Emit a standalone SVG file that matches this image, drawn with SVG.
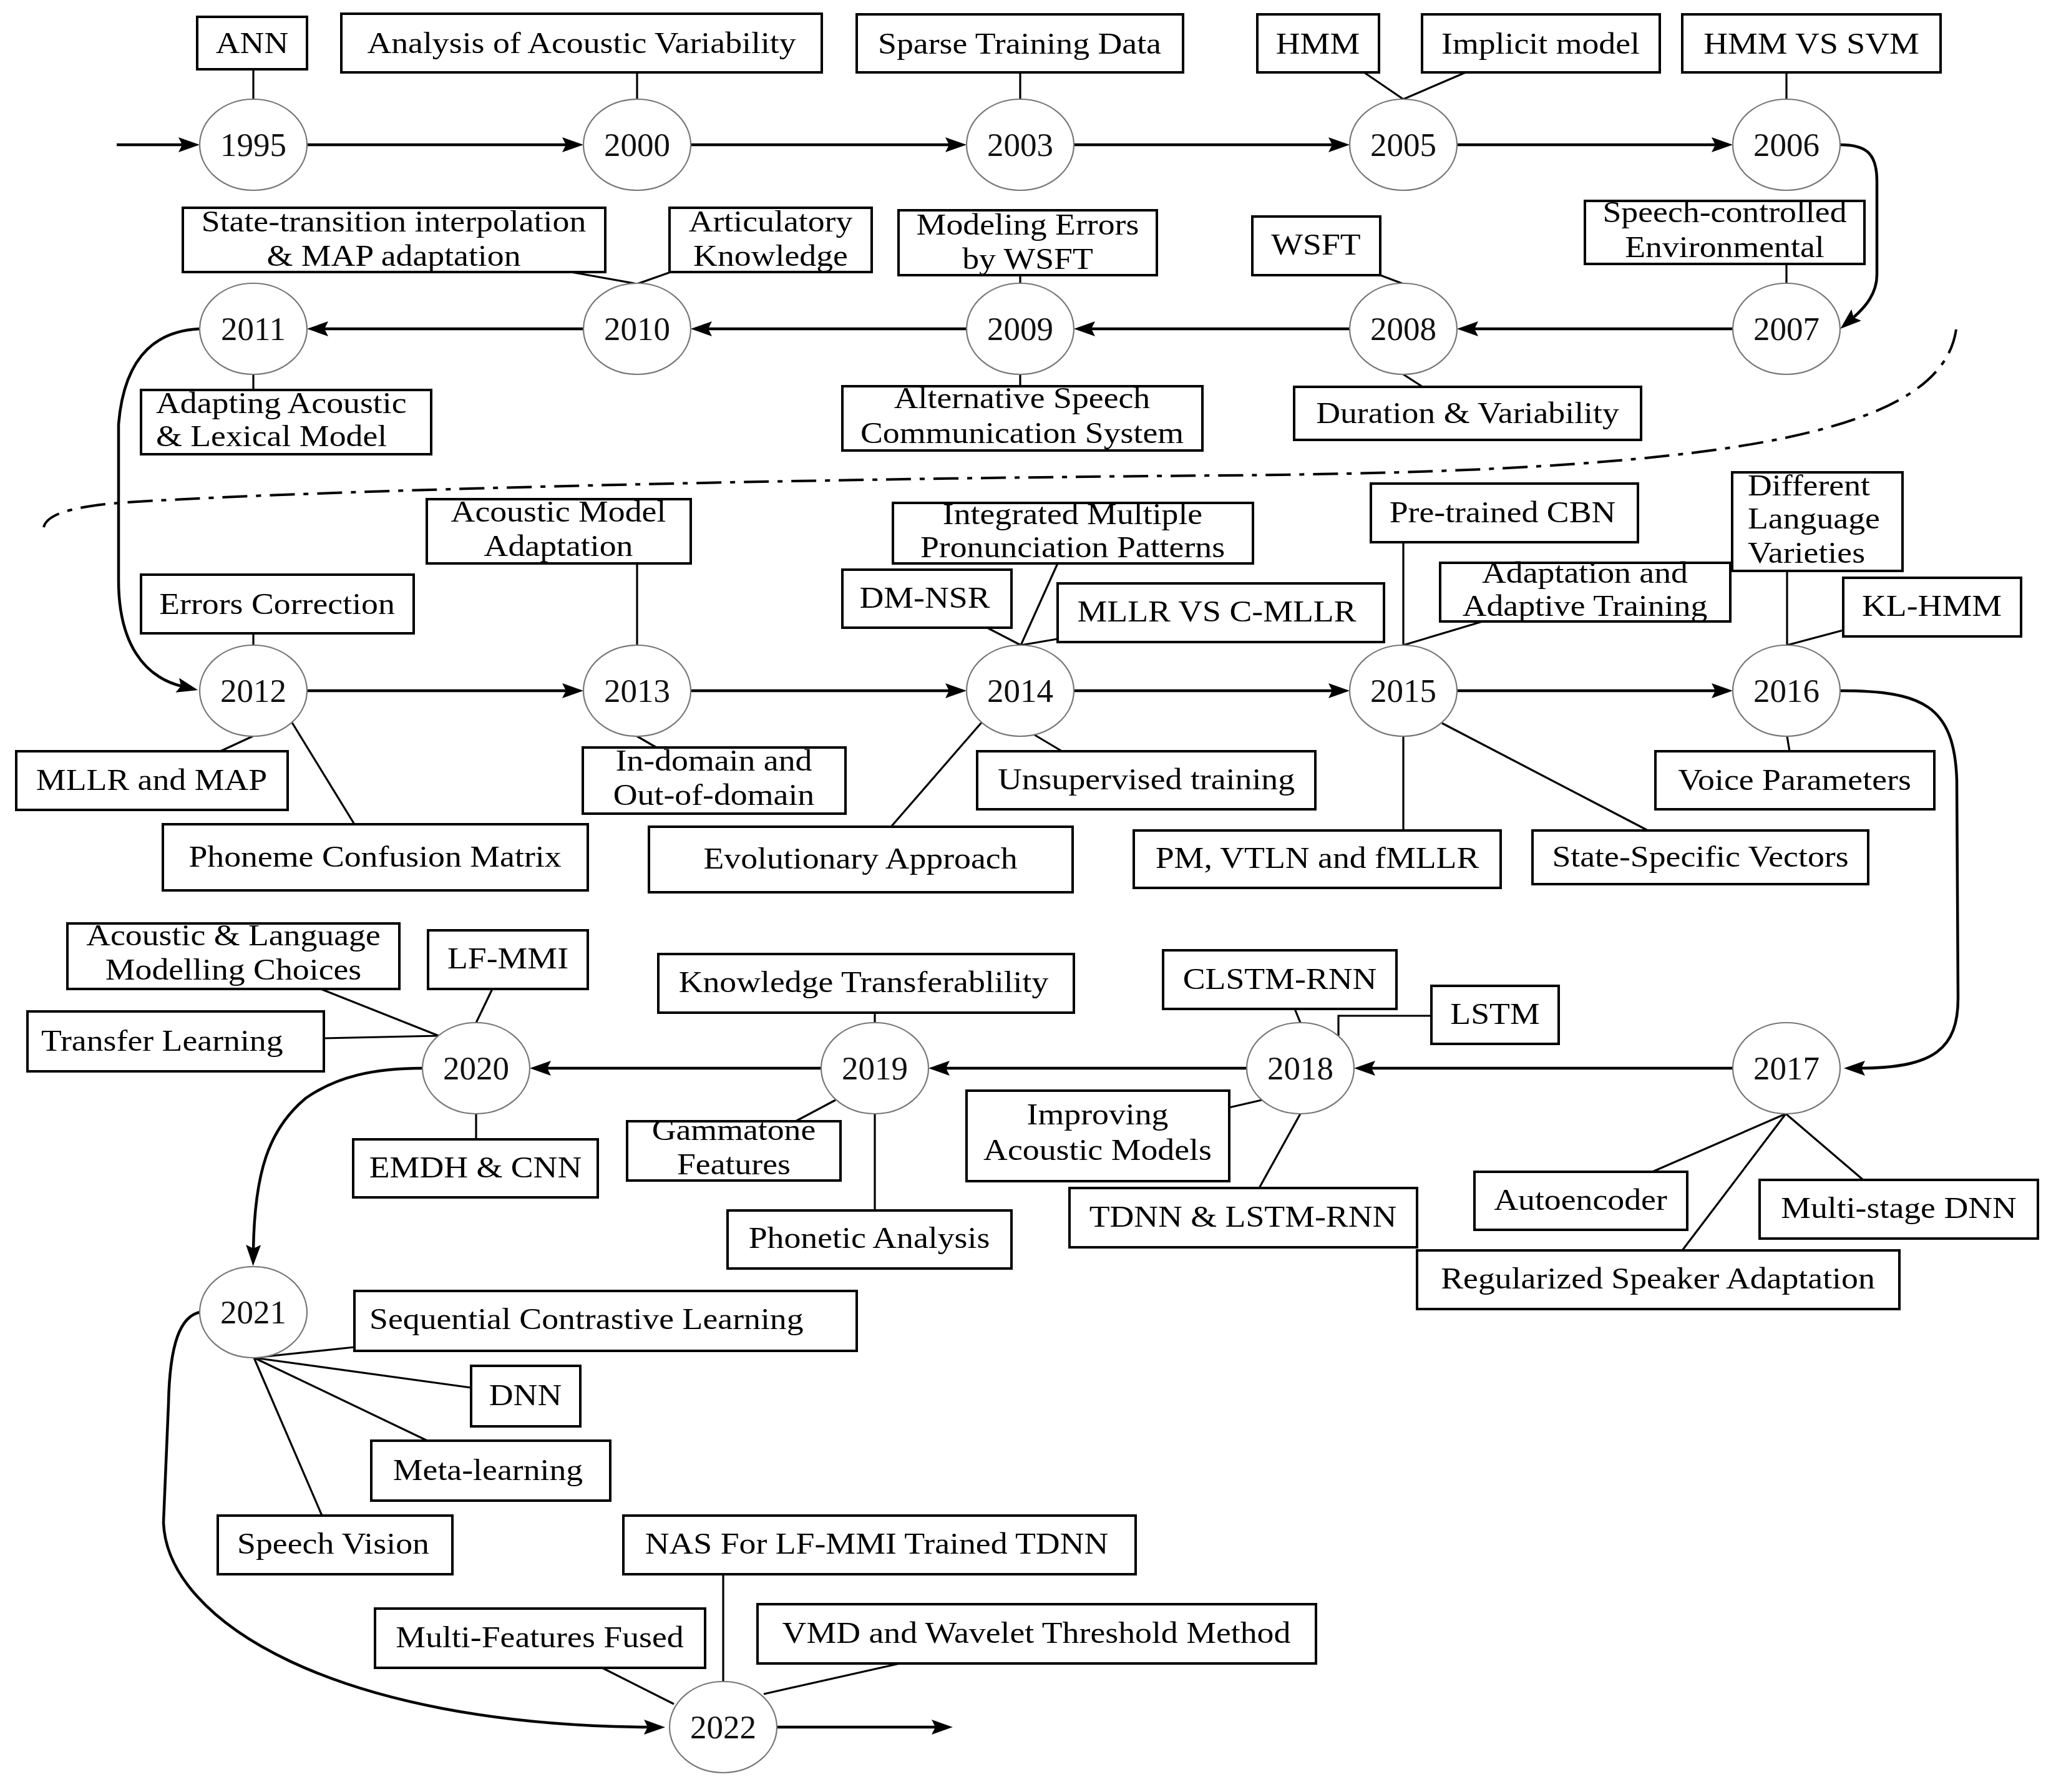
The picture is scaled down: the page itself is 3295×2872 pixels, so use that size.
<svg xmlns="http://www.w3.org/2000/svg" width="3295" height="2872" viewBox="0 0 3295 2872">
<defs>
<style>
.box{fill:#fff;stroke:#000;stroke-width:4}
.yr{fill:#fff;stroke:#777;stroke-width:2.2}
.t{font-family:"Liberation Serif","Times New Roman",serif;font-size:48px;fill:#000;text-anchor:middle}
.y{font-family:"Liberation Serif","Times New Roman",serif;font-size:53px;fill:#111;text-anchor:middle}
.s{text-anchor:start}
.c{stroke:#000;stroke-width:3.2;fill:none}
.a{stroke:#000;stroke-width:4.5;fill:none;marker-end:url(#ah)}
.dd{stroke:#000;stroke-width:4;fill:none;stroke-dasharray:40 14 8 14}
</style>
<marker id="ah" markerUnits="userSpaceOnUse" viewBox="0 0 34 24" markerWidth="34" markerHeight="24" refX="8" refY="12" orient="auto">
<path d="M0,0 L34,12 L0,24 L6,12 z" fill="#000"/>
</marker>
</defs>
<rect width="3295" height="2872" fill="#fff"/>

<g id="connectors">
<path class="a" d="M187 232 H294"/>
<path class="a" d="M492 232 H909"/>
<path class="a" d="M1107 232 H1523"/>
<path class="a" d="M1721 232 H2137"/>
<path class="a" d="M2335 232 H2751"/>
<path class="a" d="M2949 232 C2990 232 3008 245 3008 290 L3008 440 C3008 470 2990 492 2969 510"/>
<path class="a" d="M2777 527 H2361"/>
<path class="a" d="M2163 527 H1747"/>
<path class="a" d="M1549 527 H1133"/>
<path class="a" d="M935 527 H518"/>
<path class="a" d="M320 527 C260 530 200 560 190 680 L190 930 C190 1030 230 1085 292 1100"/>
<path class="a" d="M492 1107 H909"/>
<path class="a" d="M1107 1107 H1523"/>
<path class="a" d="M1721 1107 H2137"/>
<path class="a" d="M2335 1107 H2751"/>
<path class="a" d="M2949 1107 C3080 1107 3132 1130 3136 1250 L3138 1600 C3138 1680 3100 1712 2981 1712"/>
<path class="a" d="M2777 1712 H2196"/>
<path class="a" d="M1999 1712 H1514"/>
<path class="a" d="M1316 1712 H875"/>
<path class="a" d="M677 1712 C600 1712 540 1725 490 1760 C430 1810 408 1880 406 2003"/>
<path class="a" d="M320 2103 C290 2110 272 2150 270 2250 L262 2440 C268 2600 540 2765 1040 2768"/>
<path class="a" d="M1245 2768 H1501"/>
<path class="dd" d="M3135 528 C3110 700 2750 756 1950 762 C1200 768 450 788 190 806 C110 813 75 825 70 845"/>
<path class="c" d="M406 111 V159"/>
<path class="c" d="M1021 116 V159"/>
<path class="c" d="M1635 116 V159"/>
<path class="c" d="M2186 116 L2249 159 L2349 116"/>
<path class="c" d="M2863 116 V159"/>
<path class="c" d="M915 436 L1021 455 L1075 436"/>
<path class="c" d="M1635 441 V454"/>
<path class="c" d="M2212 441 L2249 455"/>
<path class="c" d="M2863 423 V454"/>
<path class="c" d="M406 600 V625"/>
<path class="c" d="M1635 600 V619"/>
<path class="c" d="M2249 600 L2280 620"/>
<path class="c" d="M1021 903 V1034"/>
<path class="c" d="M406 1015 V1034"/>
<path class="c" d="M405 1180 L353 1204"/>
<path class="c" d="M468 1158 L568 1321"/>
<path class="c" d="M1021 1180 L1052 1198"/>
<path class="c" d="M1695 903 L1636 1034"/>
<path class="c" d="M1582 1006 L1636 1034"/>
<path class="c" d="M1695 1024 L1636 1034"/>
<path class="c" d="M1655 1176 L1702 1204"/>
<path class="c" d="M1573 1158 L1428 1325"/>
<path class="c" d="M2249 869 V1034"/>
<path class="c" d="M2249 1034 L2376 996"/>
<path class="c" d="M2249 1180 V1331"/>
<path class="c" d="M2311 1159 L2641 1331"/>
<path class="c" d="M2864 915 V1034"/>
<path class="c" d="M2864 1034 L2954 1010"/>
<path class="c" d="M2864 1180 L2868 1204"/>
<path class="c" d="M514 1585 L703 1660"/>
<path class="c" d="M519 1664 L703 1660"/>
<path class="c" d="M789 1585 L763 1639"/>
<path class="c" d="M763 1785 V1826"/>
<path class="c" d="M1402 1623 V1639"/>
<path class="c" d="M1339 1763 L1275 1797"/>
<path class="c" d="M1402 1785 V1940"/>
<path class="c" d="M2075 1617 L2084 1639"/>
<path class="c" d="M2294 1628 H2145 V1660"/>
<path class="c" d="M1970 1775 L2022 1763"/>
<path class="c" d="M2084 1785 L2018 1904"/>
<path class="c" d="M2862 1785 L2648 1878"/>
<path class="c" d="M2862 1785 L2986 1891"/>
<path class="c" d="M2862 1785 L2696 2004"/>
<path class="c" d="M568 2159 L407 2176"/>
<path class="c" d="M407 2176 L755 2224"/>
<path class="c" d="M407 2176 L685 2309"/>
<path class="c" d="M407 2176 L516 2429"/>
<path class="c" d="M1159 2523 V2695"/>
<path class="c" d="M965 2673 L1080 2731"/>
<path class="c" d="M1442 2666 L1224 2715"/>
</g>

<g id="y1995"><ellipse class="yr" cx="406" cy="232" rx="86" ry="73"/><text class="y" x="406" y="250">1995</text></g>
<g id="y2000"><ellipse class="yr" cx="1021" cy="232" rx="86" ry="73"/><text class="y" x="1021" y="250">2000</text></g>
<g id="y2003"><ellipse class="yr" cx="1635" cy="232" rx="86" ry="73"/><text class="y" x="1635" y="250">2003</text></g>
<g id="y2005"><ellipse class="yr" cx="2249" cy="232" rx="86" ry="73"/><text class="y" x="2249" y="250">2005</text></g>
<g id="y2006"><ellipse class="yr" cx="2863" cy="232" rx="86" ry="73"/><text class="y" x="2863" y="250">2006</text></g>
<g id="y2011"><ellipse class="yr" cx="406" cy="527" rx="86" ry="73"/><text class="y" x="406" y="545">2011</text></g>
<g id="y2010"><ellipse class="yr" cx="1021" cy="527" rx="86" ry="73"/><text class="y" x="1021" y="545">2010</text></g>
<g id="y2009"><ellipse class="yr" cx="1635" cy="527" rx="86" ry="73"/><text class="y" x="1635" y="545">2009</text></g>
<g id="y2008"><ellipse class="yr" cx="2249" cy="527" rx="86" ry="73"/><text class="y" x="2249" y="545">2008</text></g>
<g id="y2007"><ellipse class="yr" cx="2863" cy="527" rx="86" ry="73"/><text class="y" x="2863" y="545">2007</text></g>
<g id="y2012"><ellipse class="yr" cx="406" cy="1107" rx="86" ry="73"/><text class="y" x="406" y="1125">2012</text></g>
<g id="y2013"><ellipse class="yr" cx="1021" cy="1107" rx="86" ry="73"/><text class="y" x="1021" y="1125">2013</text></g>
<g id="y2014"><ellipse class="yr" cx="1635" cy="1107" rx="86" ry="73"/><text class="y" x="1635" y="1125">2014</text></g>
<g id="y2015"><ellipse class="yr" cx="2249" cy="1107" rx="86" ry="73"/><text class="y" x="2249" y="1125">2015</text></g>
<g id="y2016"><ellipse class="yr" cx="2863" cy="1107" rx="86" ry="73"/><text class="y" x="2863" y="1125">2016</text></g>
<g id="y2020"><ellipse class="yr" cx="763" cy="1712" rx="86" ry="73"/><text class="y" x="763" y="1730">2020</text></g>
<g id="y2019"><ellipse class="yr" cx="1402" cy="1712" rx="86" ry="73"/><text class="y" x="1402" y="1730">2019</text></g>
<g id="y2018"><ellipse class="yr" cx="2084" cy="1712" rx="86" ry="73"/><text class="y" x="2084" y="1730">2018</text></g>
<g id="y2017"><ellipse class="yr" cx="2863" cy="1712" rx="86" ry="73"/><text class="y" x="2863" y="1730">2017</text></g>
<g id="y2021"><ellipse class="yr" cx="406" cy="2103" rx="86" ry="73"/><text class="y" x="406" y="2121">2021</text></g>
<g id="y2022"><ellipse class="yr" cx="1159" cy="2768" rx="86" ry="73"/><text class="y" x="1159" y="2786">2022</text></g>

<g id="b-ann"><rect class="box" x="316" y="27" width="176" height="84"/><text class="t" transform="translate(404 0) scale(1.12 1)" y="85">ANN</text></g>
<g id="b-analysis"><rect class="box" x="547" y="22" width="770" height="94"/><text class="t" transform="translate(932 0) scale(1.12 1)" y="85">Analysis of Acoustic Variability</text></g>
<g id="b-sparse"><rect class="box" x="1373" y="23" width="523" height="93"/><text class="t" transform="translate(1634 0) scale(1.12 1)" y="86">Sparse Training Data</text></g>
<g id="b-hmm"><rect class="box" x="2015" y="23" width="195" height="93"/><text class="t" transform="translate(2112 0) scale(1.12 1)" y="86">HMM</text></g>
<g id="b-implicit"><rect class="box" x="2279" y="23" width="381" height="93"/><text class="t" transform="translate(2469 0) scale(1.12 1)" y="86">Implicit model</text></g>
<g id="b-hmmsvm"><rect class="box" x="2696" y="23" width="414" height="93"/><text class="t" transform="translate(2903 0) scale(1.12 1)" y="86">HMM VS SVM</text></g>
<g id="b-state"><rect class="box" x="293" y="333" width="677" height="103"/><text class="t" transform="translate(631 0) scale(1.12 1)" y="371">State-transition interpolation</text><text class="t" transform="translate(631 0) scale(1.12 1)" y="426">&amp; MAP adaptation</text></g>
<g id="b-artic"><rect class="box" x="1073" y="333" width="324" height="103"/><text class="t" transform="translate(1235 0) scale(1.12 1)" y="371">Articulatory</text><text class="t" transform="translate(1235 0) scale(1.12 1)" y="426">Knowledge</text></g>
<g id="b-modeling"><rect class="box" x="1440" y="337" width="414" height="104"/><text class="t" transform="translate(1647 0) scale(1.12 1)" y="376">Modeling Errors</text><text class="t" transform="translate(1647 0) scale(1.12 1)" y="431">by WSFT</text></g>
<g id="b-wsft"><rect class="box" x="2007" y="347" width="205" height="94"/><text class="t" transform="translate(2109 0) scale(1.12 1)" y="408">WSFT</text></g>
<g id="b-speechctl"><rect class="box" x="2540" y="322" width="448" height="101"/><text class="t" transform="translate(2764 0) scale(1.12 1)" y="356">Speech-controlled</text><text class="t" transform="translate(2764 0) scale(1.12 1)" y="412">Environmental</text></g>
<g id="b-adapting"><rect class="box" x="226" y="625" width="465" height="103"/><text class="t s" transform="translate(250 0) scale(1.12 1)" y="662">Adapting Acoustic</text><text class="t s" transform="translate(250 0) scale(1.12 1)" y="715">&amp; Lexical Model</text></g>
<g id="b-alternative"><rect class="box" x="1350" y="619" width="577" height="103"/><text class="t" transform="translate(1638 0) scale(1.12 1)" y="654">Alternative Speech</text><text class="t" transform="translate(1638 0) scale(1.12 1)" y="710">Communication System</text></g>
<g id="b-duration"><rect class="box" x="2074" y="620" width="556" height="85"/><text class="t" transform="translate(2352 0) scale(1.12 1)" y="678">Duration &amp; Variability</text></g>
<g id="b-amadapt"><rect class="box" x="684" y="800" width="423" height="103"/><text class="t" transform="translate(895 0) scale(1.12 1)" y="836">Acoustic Model</text><text class="t" transform="translate(895 0) scale(1.12 1)" y="891">Adaptation</text></g>
<g id="b-errors"><rect class="box" x="226" y="921" width="437" height="94"/><text class="t" transform="translate(444 0) scale(1.12 1)" y="984">Errors Correction</text></g>
<g id="b-integrated"><rect class="box" x="1431" y="806" width="577" height="97"/><text class="t" transform="translate(1719 0) scale(1.12 1)" y="840">Integrated Multiple</text><text class="t" transform="translate(1719 0) scale(1.12 1)" y="893">Pronunciation Patterns</text></g>
<g id="b-dmnsr"><rect class="box" x="1350" y="913" width="271" height="93"/><text class="t" transform="translate(1482 0) scale(1.12 1)" y="974">DM-NSR</text></g>
<g id="b-mllrvs"><rect class="box" x="1695" y="935" width="523" height="94"/><text class="t" transform="translate(1950 0) scale(1.12 1)" y="996">MLLR VS C-MLLR</text></g>
<g id="b-cbn"><rect class="box" x="2197" y="775" width="428" height="94"/><text class="t" transform="translate(2408 0) scale(1.12 1)" y="837">Pre-trained CBN</text></g>
<g id="b-adaptive"><rect class="box" x="2308" y="902" width="465" height="94"/><text class="t" transform="translate(2540 0) scale(1.12 1)" y="934">Adaptation and</text><text class="t" transform="translate(2540 0) scale(1.12 1)" y="987">Adaptive Training</text></g>
<g id="b-different"><rect class="box" x="2776" y="757" width="273" height="158"/><text class="t s" transform="translate(2801 0) scale(1.12 1)" y="794">Different</text><text class="t s" transform="translate(2801 0) scale(1.12 1)" y="847">Language</text><text class="t s" transform="translate(2801 0) scale(1.12 1)" y="902">Varieties</text></g>
<g id="b-klhmm"><rect class="box" x="2954" y="926" width="285" height="94"/><text class="t" transform="translate(3096 0) scale(1.12 1)" y="987">KL-HMM</text></g>
<g id="b-mllrmap"><rect class="box" x="26" y="1204" width="435" height="94"/><text class="t" transform="translate(243 0) scale(1.12 1)" y="1266">MLLR and MAP</text></g>
<g id="b-phoneme"><rect class="box" x="261" y="1321" width="681" height="106"/><text class="t" transform="translate(601 0) scale(1.12 1)" y="1389">Phoneme Confusion Matrix</text></g>
<g id="b-indomain"><rect class="box" x="934" y="1198" width="421" height="106"/><text class="t" transform="translate(1144 0) scale(1.12 1)" y="1235">In-domain and</text><text class="t" transform="translate(1144 0) scale(1.12 1)" y="1290">Out-of-domain</text></g>
<g id="b-unsup"><rect class="box" x="1566" y="1204" width="542" height="93"/><text class="t" transform="translate(1837 0) scale(1.12 1)" y="1265">Unsupervised training</text></g>
<g id="b-evol"><rect class="box" x="1040" y="1325" width="679" height="105"/><text class="t" transform="translate(1379 0) scale(1.12 1)" y="1392">Evolutionary Approach</text></g>
<g id="b-pm"><rect class="box" x="1817" y="1331" width="588" height="92"/><text class="t" transform="translate(2111 0) scale(1.12 1)" y="1391">PM, VTLN and fMLLR</text></g>
<g id="b-ssv"><rect class="box" x="2456" y="1331" width="538" height="86"/><text class="t" transform="translate(2725 0) scale(1.12 1)" y="1389">State-Specific Vectors</text></g>
<g id="b-voice"><rect class="box" x="2653" y="1204" width="447" height="93"/><text class="t" transform="translate(2876 0) scale(1.12 1)" y="1266">Voice Parameters</text></g>
<g id="b-aclang"><rect class="box" x="108" y="1480" width="532" height="105"/><text class="t" transform="translate(374 0) scale(1.12 1)" y="1515">Acoustic &amp; Language</text><text class="t" transform="translate(374 0) scale(1.12 1)" y="1570">Modelling Choices</text></g>
<g id="b-lfmmi"><rect class="box" x="686" y="1491" width="256" height="94"/><text class="t" transform="translate(814 0) scale(1.12 1)" y="1552">LF-MMI</text></g>
<g id="b-transfer"><rect class="box" x="44" y="1621" width="475" height="96"/><text class="t s" transform="translate(66 0) scale(1.12 1)" y="1684">Transfer Learning</text></g>
<g id="b-emdh"><rect class="box" x="566" y="1826" width="392" height="93"/><text class="t" transform="translate(762 0) scale(1.12 1)" y="1887">EMDH &amp; CNN</text></g>
<g id="b-knowledge"><rect class="box" x="1055" y="1529" width="666" height="94"/><text class="t" transform="translate(1384 0) scale(1.12 1)" y="1590">Knowledge Transferablility</text></g>
<g id="b-gamma"><rect class="box" x="1005" y="1797" width="342" height="95"/><text class="t" transform="translate(1176 0) scale(1.12 1)" y="1827">Gammatone</text><text class="t" transform="translate(1176 0) scale(1.12 1)" y="1882">Features</text></g>
<g id="b-phonetic"><rect class="box" x="1166" y="1940" width="455" height="93"/><text class="t" transform="translate(1393 0) scale(1.12 1)" y="2000">Phonetic Analysis</text></g>
<g id="b-clstm"><rect class="box" x="1864" y="1523" width="374" height="94"/><text class="t" transform="translate(2051 0) scale(1.12 1)" y="1585">CLSTM-RNN</text></g>
<g id="b-lstm"><rect class="box" x="2294" y="1580" width="204" height="93"/><text class="t" transform="translate(2396 0) scale(1.12 1)" y="1641">LSTM</text></g>
<g id="b-improving"><rect class="box" x="1549" y="1748" width="421" height="145"/><text class="t" transform="translate(1759 0) scale(1.12 1)" y="1802">Improving</text><text class="t" transform="translate(1759 0) scale(1.12 1)" y="1859">Acoustic Models</text></g>
<g id="b-tdnn"><rect class="box" x="1714" y="1904" width="557" height="95"/><text class="t" transform="translate(1992 0) scale(1.12 1)" y="1966">TDNN &amp; LSTM-RNN</text></g>
<g id="b-autoenc"><rect class="box" x="2363" y="1878" width="341" height="93"/><text class="t" transform="translate(2533 0) scale(1.12 1)" y="1939">Autoencoder</text></g>
<g id="b-multistage"><rect class="box" x="2820" y="1891" width="446" height="94"/><text class="t" transform="translate(3043 0) scale(1.12 1)" y="1952">Multi-stage DNN</text></g>
<g id="b-regular"><rect class="box" x="2271" y="2004" width="773" height="94"/><text class="t" transform="translate(2657 0) scale(1.12 1)" y="2065">Regularized Speaker Adaptation</text></g>
<g id="b-seq"><rect class="box" x="568" y="2069" width="805" height="96"/><text class="t s" transform="translate(592 0) scale(1.12 1)" y="2130">Sequential Contrastive Learning</text></g>
<g id="b-dnn"><rect class="box" x="755" y="2189" width="175" height="97"/><text class="t" transform="translate(842 0) scale(1.12 1)" y="2252">DNN</text></g>
<g id="b-meta"><rect class="box" x="595" y="2309" width="383" height="96"/><text class="t" transform="translate(782 0) scale(1.12 1)" y="2372">Meta-learning</text></g>
<g id="b-vision"><rect class="box" x="349" y="2429" width="376" height="94"/><text class="t" transform="translate(534 0) scale(1.12 1)" y="2490">Speech Vision</text></g>
<g id="b-nas"><rect class="box" x="999" y="2429" width="821" height="94"/><text class="t" transform="translate(1405 0) scale(1.12 1)" y="2490">NAS For LF-MMI Trained TDNN</text></g>
<g id="b-multifeat"><rect class="box" x="601" y="2578" width="529" height="95"/><text class="t" transform="translate(865 0) scale(1.12 1)" y="2640">Multi-Features Fused</text></g>
<g id="b-vmd"><rect class="box" x="1214" y="2571" width="895" height="95"/><text class="t" transform="translate(1661 0) scale(1.12 1)" y="2633">VMD and Wavelet Threshold Method</text></g>
</svg>
